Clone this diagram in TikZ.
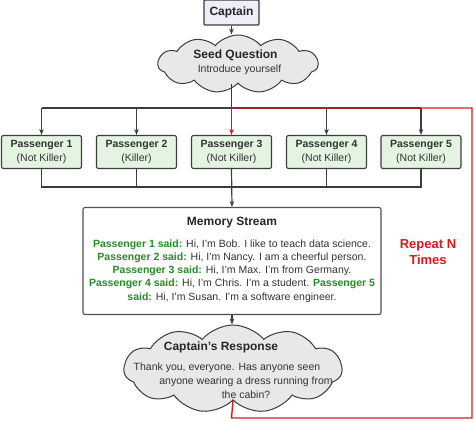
\documentclass[tikz,border=0pt]{standalone}
\usepackage{fontspec}
\setmainfont{Liberation Sans}
\usetikzlibrary{shapes.symbols,arrows.meta}
\definecolor{lineg}{RGB}{60,60,60}
\definecolor{boxg}{RGB}{227,244,225}
\definecolor{capf}{RGB}{238,238,250}
\definecolor{cloudf}{RGB}{232,232,232}
\definecolor{txtg}{RGB}{38,140,38}
\definecolor{redl}{RGB}{215,25,30}
\tikzset{
  body/.style={font=\fontsize{10.5}{14}\selectfont},
  ttl/.style={font=\fontsize{12}{14}\selectfont\bfseries, text=black!85},
  pbox/.style={draw=lineg, line width=1.1pt, fill=boxg, rounded corners=2pt, minimum width=80pt, minimum height=33pt, align=center, inner sep=0pt, font=\fontsize{10.5}{14}\selectfont, text=black!80},
  capbox/.style={draw=lineg, line width=1.1pt, fill=capf, rounded corners=1pt, minimum width=55pt, minimum height=25pt, inner sep=0pt},
  memb/.style={draw=lineg!90, line width=1.1pt, fill=white, rounded corners=2pt, minimum width=298pt, minimum height=107pt, inner sep=0pt},
  cl/.style={cloud, cloud ignores aspect, cloud puffs=11, cloud puff arc=100, draw=lineg, line width=1pt, fill=cloudf, inner sep=0pt},
  conn/.style={draw=lineg, line width=1.2pt},
  arr/.style={conn, -{Stealth[length=6pt,width=4.5pt]}},
  rarr/.style={draw=redl, line width=1.4pt},
}
\newcommand{\gs}[1]{\textcolor{txtg}{\textbf{#1}}}
\begin{document}
\begin{tikzpicture}[x=1pt,y=-1pt]
\useasboundingbox (0,0) rectangle (474,422);
% nodes
\node[capbox] (cap) at (231.5,12.5) {};
\node[ttl] (captxt) at (231.5,12.5) {Captain};
\node[cl, minimum width=160pt, minimum height=58pt] (seed) at (238,64) {};
\node[ttl] (seedt) at (235.5,55) {Seed Question};
\node[body, text=black!80] (seedb) at (239.5,70) {Introduce yourself};

\node[pbox] (p1) at (41.5,152) {\textbf{Passenger 1}\\(Not Killer)};
\node[pbox] (p2) at (136.5,152) {\textbf{Passenger 2}\\(Killer)};
\node[pbox] (p3) at (231.5,152) {\textbf{Passenger 3}\\(Not Killer)};
\node[pbox] (p4) at (326.5,152) {\textbf{Passenger 4}\\(Not Killer)};
\node[pbox] (p5) at (421,152) {\textbf{Passenger 5}\\(Not Killer)};

\node[memb] (mem) at (232,261) {};
\node[ttl] (memt) at (232,223) {Memory Stream};
\node[font=\fontsize{10.5}{13.2}\selectfont, align=center, text=black!80] (memb) at (232,271)
 {\gs{Passenger 1 said:} Hi, I'm Bob. I like to teach data science.\\
  \gs{Passenger 2 said:} Hi, I'm Nancy. I am a cheerful person.\\
  \gs{Passenger 3 said:} Hi, I'm Max. I'm from Germany.\\
  \gs{Passenger 4 said:} Hi, I'm Chris. I'm a student. \gs{Passenger 5}\\
  \gs{said:} Hi, I'm Susan. I'm a software engineer.};

\node[cl, minimum width=218pt, minimum height=88pt] (resp) at (233,369) {};
\node[ttl] (respt) at (221,347) {Captain's Response};
\node[font=\fontsize{10.5}{14}\selectfont, align=center, text=black!80] (respb) at (246,381)
 {\hspace*{-38pt}Thank you, everyone. Has anyone seen\\anyone wearing a dress running from\\the cabin?};

\node[font=\fontsize{13}{16}\selectfont\bfseries, text=redl, align=center] (rep) at (428,252) {Repeat N\\Times};

% coordinates
\coordinate (hub) at (231.5,108);
\coordinate (col) at (231.5,187);
\coordinate (rb) at (231.5,418);
\coordinate (rr) at (472,418);

% top connectors
\draw[arr] (cap.south) -- (cap.south |- seed.north);
\draw[conn] (cap.south |- seed.south) -- (hub) -- (p1.north |- hub);
\draw[conn] (hub) -- (p5.north |- hub);
\draw[arr] (p1.north |- hub) -- (p1.north);
\draw[arr] (p2.north |- hub) -- (p2.north);
\draw[arr] (p4.north |- hub) -- (p4.north);
\draw[arr] (p5.north |- hub) -- (p5.north);

% bottom connectors
\draw[conn] (p1.south) |- (col);
\draw[conn] (p5.south) |- (col);
\draw[conn] (p2.south) -- (p2.south |- col);
\draw[conn] (p4.south) -- (p4.south |- col);
\draw[arr] (p3.south) -- (mem.north);
\draw[arr] (mem.south) -- (mem.south |- resp.north);

% red loop
\draw[rarr] (resp.south) -- (rb) -- (rr) |- (hub);
\draw[rarr, -{Stealth[length=6pt,width=4.5pt]}] (hub) -- (p3.north);
\end{tikzpicture}
\end{document}
